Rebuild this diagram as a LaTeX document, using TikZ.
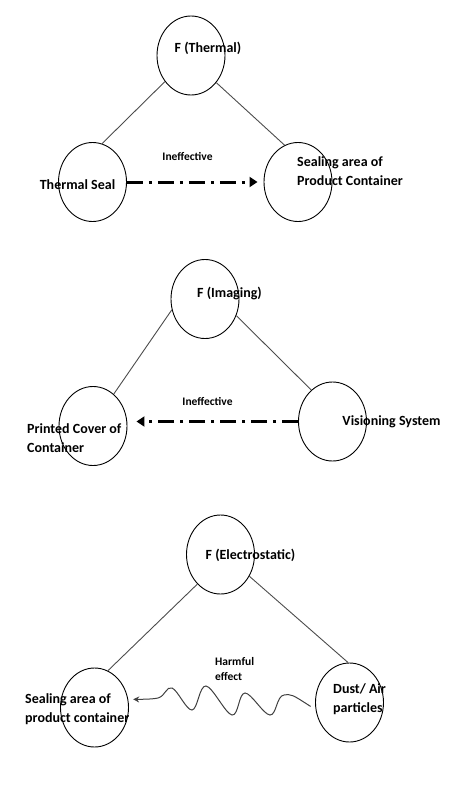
\documentclass[tikz,border=0pt]{standalone}
\usepackage{fontspec}
\setmainfont{Carlito}
\usepackage{tikz}
\usetikzlibrary{shapes.geometric, arrows.meta}

\begin{document}
\begin{tikzpicture}[x=1pt, y=-1pt,
		blob/.style={draw, ellipse, minimum width=68pt, minimum height=79pt, inner sep=0pt, line width=0.9pt},
		tag/.style={font=\bfseries\fontsize{14}{19}\selectfont, inner sep=0pt, align=left},
		note/.style={font=\bfseries\fontsize{11.5}{15}\selectfont, inner sep=0pt, align=left},
		link/.style={draw=black!70, line width=0.9pt},
		dashdot/.style={line width=3pt, dash pattern=on 16pt off 6pt on 3pt off 6pt, -{Triangle[length=8pt, width=10pt]}},
		wave/.style={draw=black!75, line width=1pt, -{Stealth[length=6pt, width=6pt]}, shorten <=6pt, shorten >=5pt}]
			\useasboundingbox (0,0) rectangle (474,790);
			\node[blob] (T1) at (191,55.5) {};
			\node[blob] (L1) at (92.5,182) {};
			\node[blob] (R1) at (298,182) {};
			\draw[link] (T1.225) -- (L1.76);
			\draw[link] (T1.313) -- (R1.110);
			\draw[dashdot, shorten >=6pt] (L1.east) -- (R1.west);
			\node[tag] (thermal) at (208,48) {F (Thermal)};
			\node[tag] (seal) at (77.5,185) {Thermal Seal};
			\node[tag, anchor=west] (area) at (297,171.5) {Sealing area of\\Product Container};
			\node[note] (ineff1) at (187.5,156) {Ineffective};

			\node[blob] (T2) at (205,299) {};
			\node[blob] (L2) at (93,426) {};
			\node[blob] (R2) at (332.5,421.5) {};
			\draw[link] (T2.198) -- (L2.57);
			\draw[link] (T2.332) -- (R2.124);
			\draw[dashdot, shorten >=9pt] (R2.west) -- (L2.east |- R2.west);
			\node[tag] (imaging) at (229.5,293) {F (Imaging)};
			\node[tag, anchor=west] (cover) at (27,438) {Printed Cover of\\Container};
			\node[tag] (vision) at (391.5,422) {Visioning System};
			\node[note] (ineff2) at (207.5,401) {Ineffective};

			\node[blob] (T3) at (220.5,554.5) {};
			\node[blob] (L3) at (94.5,707.5) {};
			\node[blob] (R3) at (349.5,702.5) {};
			\draw[link] (T3.232) -- (L3.70);
			\draw[link] (T3.323) -- (R3.92);
			\draw[wave] plot[smooth, tension=0.6] coordinates {(R3.192) (284,695) (270,715) (245,693) (232,715)
				(206,686) (192,710) (172,688) (158,698) (L3.14)};
			\node[tag] (electro) at (250.5,555) {F (Electrostatic)};
			\node[tag, anchor=west] (area2) at (25,709.5) {Sealing area of\\product container};
			\node[tag, anchor=west] (dust) at (333,699) {Dust/ Air\\particles};
			\node[note, anchor=west] (harm) at (215,668.5) {Harmful\\effect};
		\end{tikzpicture}
\end{document}
